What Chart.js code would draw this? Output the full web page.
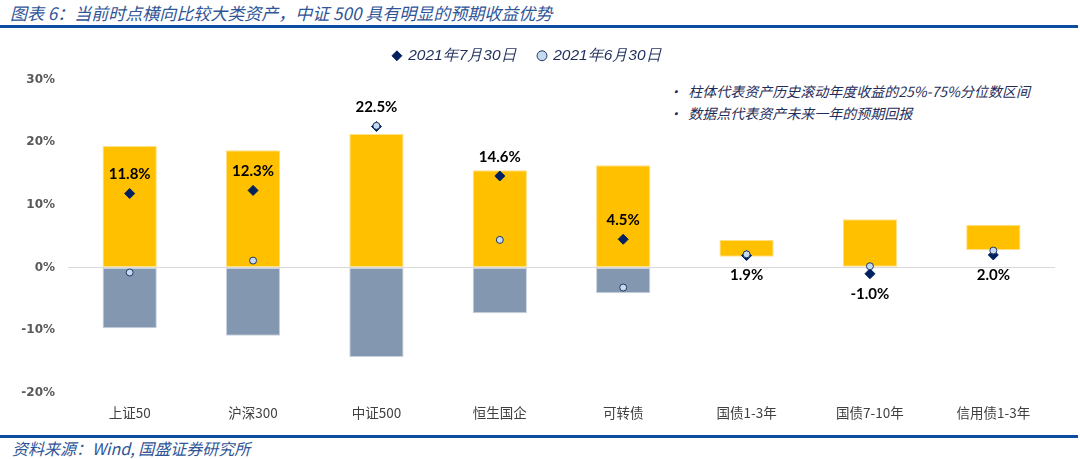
<!DOCTYPE html>
<html>
<head>
<meta charset="utf-8">
<script src="https://cdn.jsdelivr.net/npm/chart.js@4.4.0/dist/chart.umd.min.js"></script>
<style>
  html, body { margin: 0; padding: 0; background: #fff; }
  body { width: 1080px; height: 459px; position: relative; overflow: hidden; font-family: "Noto Sans CJK SC", sans-serif; }
  .title { position: absolute; left: 10px; top: 0px; font-size: 17px; font-style: italic; color: #2f5597; }
  .rule { position: absolute; left: 0; width: 1078px; height: 3px; background: #0b4da2; }
  .src { position: absolute; left: 12px; top: 436px; font-size: 16px; font-style: italic; color: #2f5597; }
  .note { position: absolute; left: 668px; font-size: 14px; font-style: italic; color: #1f2d5a; }
  #wrap { position: absolute; left: 0; top: 26px; width: 1080px; height: 399px; }
</style>
</head>
<body>
<div class="title">图表 6：当前时点横向比较大类资产，中证 500 具有明显的预期收益优势</div>
<div class="rule" style="top:25px"></div>
<div class="note" style="top:81px">•&nbsp; 柱体代表资产历史滚动年度收益的25%-75%分位数区间</div>
<div class="note" style="top:103px">•&nbsp; 数据点代表资产未来一年的预期回报</div>
<div id="wrap"><canvas id="c"></canvas></div>
<div class="rule" style="top:435px"></div>
<div class="src">资料来源：Wind, 国盛证券研究所</div>
<script>
const categories = ['上证50', '沪深300', '中证500', '恒生国企', '可转债', '国债1-3年', '国债7-10年', '信用债1-3年'];
// 历史滚动年度收益 25%-75% 分位 (%)
const rangeLow = [-9.7, -10.9, -14.3, -7.3, -4.1, 1.7, 0.1, 2.8];
const rangeHigh = [19.4, 18.7, 21.3, 15.5, 16.3, 4.4, 7.7, 6.8];
// 预期回报 (%)
const jul30 = [11.8, 12.3, 22.5, 14.6, 4.5, 1.9, -1.0, 2.0];
const jun30 = [-0.8, 1.1, 22.6, 4.4, -3.2, 2.1, 0.2, 2.7];
const yTicks = [-20, -10, 0, 10, 20, 30];

const posPart = rangeLow.map((lo, i) => [Math.max(lo, 0), rangeHigh[i]]);
const negPart = rangeLow.map((lo, i) => lo < 0 ? [lo, Math.min(rangeHigh[i], 0)] : null);

const valueLabels = {
  id: 'valueLabels',
  afterDatasetsDraw(chart) {
    const ctx = chart.ctx;
    const meta = chart.getDatasetMeta(0);
    ctx.save();
    ctx.font = 'bold 15px Lato, sans-serif';
    ctx.fillStyle = '#000';
    ctx.textAlign = 'center';
    ctx.textBaseline = 'middle';
    meta.data.forEach((pt, i) => {
      const below = jul30[i] < 3 && rangeHigh[i] < 10;
      ctx.fillText(jul30[i].toFixed(1) + '%', pt.x, below ? pt.y + 20 : pt.y - 19);
    });
    ctx.restore();
  }
};

// a bit more room under the legend
const legendGap = {
  id: 'legendGap',
  beforeInit(chart) {
    const fit = chart.legend.fit;
    chart.legend.fit = function () {
      fit.bind(chart.legend)();
      this.height += 6;
    };
  }
};

new Chart(document.getElementById('c'), {
  data: {
    labels: categories,
    datasets: [
      {
        type: 'line', label: '2021年7月30日', data: jul30, showLine: false,
        pointStyle: 'rectRot', pointRadius: 5, pointBackgroundColor: '#002060',
        pointBorderColor: '#002060', pointBorderWidth: 1, order: 1
      },
      {
        type: 'line', label: '2021年6月30日', data: jun30, showLine: false,
        pointStyle: 'circle', pointRadius: 3.5, pointBackgroundColor: '#c5d9f1',
        pointBorderColor: '#1f3864', pointBorderWidth: 1, order: 0
      },
      {
        type: 'bar', label: 'pos', data: posPart, backgroundColor: '#ffc000',
        borderColor: '#ffe08a', borderWidth: 1, borderSkipped: false,
        barPercentage: 0.44, categoryPercentage: 1, order: 2
      },
      {
        type: 'bar', label: 'neg', data: negPart, backgroundColor: '#8497b0',
        borderColor: '#c9d2de', borderWidth: 1, borderSkipped: false,
        barPercentage: 0.44, categoryPercentage: 1, order: 3
      }
    ]
  },
  options: {
    responsive: true,
    maintainAspectRatio: false,
    animation: false,
    layout: { padding: { top: 0, right: 25, bottom: 0, left: 0 } },
    plugins: {
      tooltip: { enabled: false },
      legend: {
        position: 'top',
        labels: {
          filter: (item) => item.datasetIndex < 2,
          sort: (a, b) => a.datasetIndex - b.datasetIndex,
          usePointStyle: true,
          boxWidth: 7, boxHeight: 7,
          padding: 22,
          color: '#1f2d5a',
          font: { family: 'Liberation Sans, sans-serif', size: 15.5, style: 'italic' }
        }
      }
    },
    scales: {
      x: {
        stacked: true,
        grid: { display: false },
        border: { display: false },
        ticks: { color: '#404040', font: { family: '"Noto Sans CJK SC", sans-serif', size: 13.5 }, padding: 4 }
      },
      y: {
        min: -20, max: 30,
        afterFit: (s) => { s.width = 68; },
        afterBuildTicks: (s) => { s.ticks = yTicks.map(v => ({ value: v })); },
        border: { display: false },
        grid: {
          drawTicks: false,
          color: (c) => c.tick && c.tick.value === 0 ? '#d9d9d9' : 'rgba(0,0,0,0)'
        },
        ticks: {
          padding: 13,
          color: '#595959',
          font: { family: 'DejaVu Sans, sans-serif', size: 12, weight: 'bold' },
          callback: (v) => v + '%'
        }
      }
    }
  },
  plugins: [valueLabels, legendGap]
});
</script>
</body>
</html>
